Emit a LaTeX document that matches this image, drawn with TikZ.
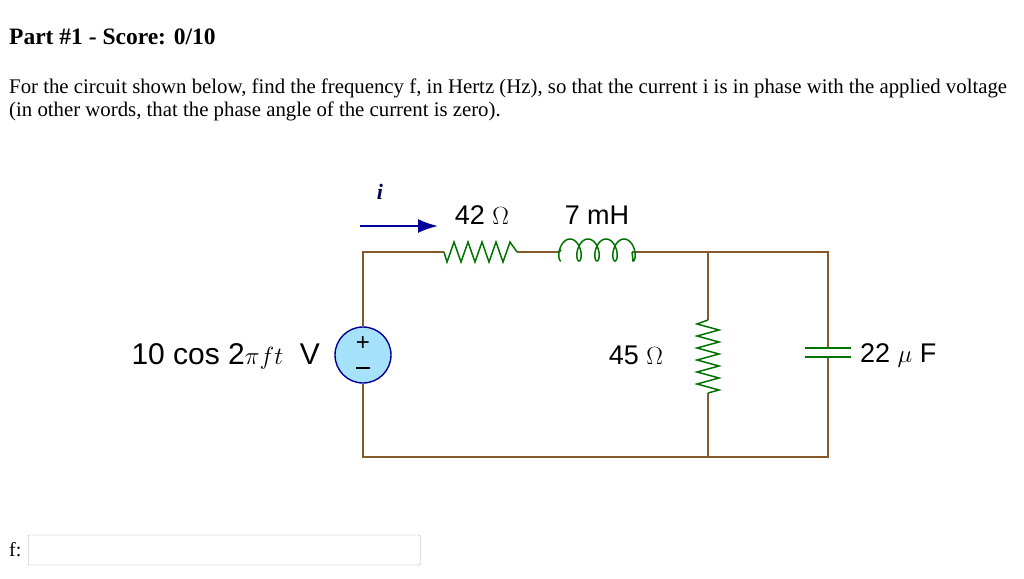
\documentclass[tikz,border=0pt]{standalone}
\usepackage{fontspec}
\setmainfont{Liberation Serif}
\newfontfamily\arial{Liberation Sans}
\usetikzlibrary{arrows.meta}
\begin{document}
\begin{tikzpicture}[x=1pt,y=-1pt,
  wire/.style={draw=brown!70!black,line width=1.6pt},
  comp/.style={draw=green!45!black,line width=1.5pt},
  lbl/.style={font=\arial\fontsize{27}{30}\selectfont,inner sep=0pt}]
\useasboundingbox (0,0) rectangle (1024,578);
\node[anchor=west,font=\bfseries\fontsize{23.5}{26}\selectfont,inner sep=0pt] (title) at (9,37) {Part \#1 - Score: 0/10};
\node[anchor=west,font=\fontsize{20.8}{24}\selectfont,inner sep=0pt] (q1) at (9,88) {For the circuit shown below, find the frequency f, in Hertz (Hz), so that the current i is in phase with the applied voltage};
\node[anchor=west,font=\fontsize{20.8}{24}\selectfont,inner sep=0pt] (q2) at (9,111) {(in other words, that the phase angle of the current is zero).};
\coordinate (tl) at (363,252);
\coordinate (bl) at (363,457);
\coordinate (tm) at (708,252);
\coordinate (bm) at (708,457);
\coordinate (tr) at (828,252);
\coordinate (br) at (828,457);
\coordinate (r1a) at (444,252); \coordinate (r1b) at (517,252);
\coordinate (l1a) at (559,252); \coordinate (l1b) at (632,252);
\coordinate (r2a) at (708,320); \coordinate (r2b) at (708,393);
\coordinate (c1) at (828,348); \coordinate (c2) at (828,357);
\node[circle,draw=blue!60!black,fill=cyan!35,line width=1.4pt,minimum size=56pt,inner sep=0pt] (src) at (363,355) {};
\node[font=\arial\fontsize{24}{24}\selectfont,inner sep=0pt] (plus) at (363,344) {+};
\node[inner sep=0pt] (minus) at (363,368) {\rule{14pt}{1.5pt}};
\draw[wire] (src.north) -- (tl) -- (r1a);
\draw[wire] (r1b) -- (l1a);
\draw[wire] (l1b) -- (tr) -- (c1);
\draw[wire] (c2) -- (br) -- (bl) -- (src.south);
\draw[wire] (tm) -- (r2a);
\draw[wire] (r2b) -- (bm);
\draw[comp] (r1a) -- (447,262) -- (454,242) -- (461,262) -- (468,242) -- (475,262) -- (482,242) -- (489,262) -- (496,242) -- (503,262) -- (510,242) -- (517,252);
\draw[comp] (r2a) -- (697,324) -- (719,330) -- (697,336) -- (719,342) -- (697,348) -- (719,354) -- (697,360) -- (719,366) -- (697,372) -- (719,378) -- (697,384) -- (719,390) -- (r2b);
\draw[comp] (l1a) -- (561,250) plot[domain=0:1440,samples=160,variable=\t] ({561+\t/20-6*sin(\t)},{250+11*cos(\t)}) -- (l1b);
\draw[comp] (805,348) -- (851,348);
\draw[comp] (805,357) -- (851,357);
\draw[-{Latex[length=20pt,width=14pt]},draw=blue!60!black,fill=blue!60!black,line width=2pt] (360,226) coordinate (ia) -- (438,226) coordinate (ib);
\node[font=\bfseries\itshape\fontsize{22}{22}\selectfont,text=blue!30!black] (ilab) at (380,192) {i};
\node[lbl] (l42) at (482,215) {42 $\Omega$};
\node[lbl] (l7) at (597,215) {7 mH};
\node[lbl] (l45) at (636,355) {45 $\Omega$};
\node[lbl,anchor=west] (l22) at (860,355) {22 $\mu$ F};
\node[lbl,anchor=east,font=\arial\fontsize{30}{32}\selectfont] (lv) at (320,356) {10 cos 2$\pi f t$ \ V};
\node[anchor=west,font=\fontsize{20}{22}\selectfont,inner sep=0pt] (flab) at (9,550) {f:};
\node[draw=gray!70,minimum width=392pt,minimum height=30pt,anchor=west,inner sep=0pt,rounded corners=1pt] (box) at (28,550) {};
\end{tikzpicture}
\end{document}
